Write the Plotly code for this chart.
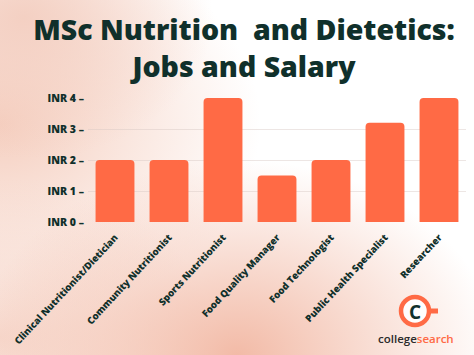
import base64
import plotly.graph_objects as go

categories = [
    "Clinical Nutritionist/Dietician",
    "Community Nutritionist",
    "Sports Nutritionist",
    "Food Quality Manager",
    "Food Technologist",
    "Public Health Specialist",
    "Researcher",
]
salary_lakh = [2, 2, 4, 1.5, 2, 3.2, 4]
tick_values = [0, 1, 2, 3, 4]
tick_labels = ["INR 0 –", "INR 1 –", "INR 2 –", "INR 3 –", "INR 4 –"]

W, H = 474, 355
L, R, T, B = 88, 8, 98, 133
pw, ph = W - L - R, H - T - B

DARK = "#10302b"
ORANGE = "#ff6a45"

svg = f"""<svg xmlns='http://www.w3.org/2000/svg' width='{W}' height='{H}' viewBox='0 0 {W} {H}' preserveAspectRatio='none'>
<defs>
<radialGradient id='g1' cx='0' cy='0.35' r='0.55'>
<stop offset='0' stop-color='#f4c9b8' stop-opacity='0.9'/>
<stop offset='1' stop-color='#f4c9b8' stop-opacity='0'/>
</radialGradient>
<radialGradient id='g2' cx='0.5' cy='1' r='0.55'>
<stop offset='0' stop-color='#f1b39d' stop-opacity='0.9'/>
<stop offset='1' stop-color='#f1b39d' stop-opacity='0'/>
</radialGradient>
<radialGradient id='g3' cx='0.05' cy='0.05' r='0.4'>
<stop offset='0' stop-color='#f3cdbf' stop-opacity='0.9'/>
<stop offset='1' stop-color='#f3cdbf' stop-opacity='0'/>
</radialGradient>
<radialGradient id='g4' cx='0.0' cy='0.95' r='0.45'>
<stop offset='0' stop-color='#f6d4c7' stop-opacity='0.9'/>
<stop offset='1' stop-color='#f6d4c7' stop-opacity='0'/>
</radialGradient>
</defs>
<rect width='{W}' height='{H}' fill='#ffffff'/>
<rect width='{W}' height='{H}' fill='url(#g1)'/>
<rect width='{W}' height='{H}' fill='url(#g3)'/>
<rect width='{W}' height='{H}' fill='url(#g4)'/>
<rect width='{W}' height='{H}' fill='url(#g2)'/>
</svg>"""
svg_uri = "data:image/svg+xml;base64," + base64.b64encode(svg.encode()).decode()


def px_x(x):
    return (x - L) / pw


def px_y(y):
    return (H - B - y) / ph


fig = go.Figure()
fig.add_trace(
    go.Bar(
        x=categories,
        y=salary_lakh,
        marker=dict(color=ORANGE, cornerradius=4, line=dict(width=0)),
        hoverinfo="skip",
    )
)

fig.update_layout(
    width=W,
    height=H,
    margin=dict(l=L, r=R, t=T, b=B, pad=0, autoexpand=False),
    paper_bgcolor="white",
    plot_bgcolor="rgba(0,0,0,0)",
    bargap=0.28,
    showlegend=False,
    title=dict(
        text="MSc Nutrition  and Dietetics:<br>Jobs and Salary",
        x=244 / W,
        xanchor="center",
        y=1 - 40 / H,
        yanchor="middle",
        font=dict(family="Open Sans", size=28.5, color=DARK, weight=800),
        automargin=False,
    ),
    font=dict(family="Open Sans", color=DARK),
    images=[
        dict(
            source=svg_uri,
            xref="paper",
            yref="paper",
            x=px_x(0),
            y=px_y(0),
            sizex=W / pw,
            sizey=H / ph,
            xanchor="left",
            yanchor="top",
            sizing="stretch",
            layer="below",
        )
    ],
)

fig.update_xaxes(
    range=[-0.5, 6.5],
    tickangle=-47,
    tickfont=dict(family="Open Sans", size=9.6, color=DARK, weight=800),
    showgrid=False,
    showline=False,
    ticks="",
    zeroline=False,
    automargin=False,
    ticklabelstandoff=7,
)
fig.update_yaxes(
    range=[0, 4],
    tickvals=tick_values,
    ticktext=tick_labels,
    tickfont=dict(family="Open Sans", size=10.5, color=DARK, weight=800),
    showgrid=True,
    gridcolor="rgba(215,200,195,0.45)",
    gridwidth=1,
    zeroline=False,
    showline=False,
    ticks="",
    ticklabelstandoff=3,
    automargin=False,
)

# logo (decoration)
cx, cy, r = 415, 311, 14
fig.add_shape(
    type="line", xref="paper", yref="paper",
    x0=px_x(cx + r), x1=px_x(cx + r + 9), y0=px_y(cy), y1=px_y(cy),
    line=dict(color=ORANGE, width=5),
)
fig.add_shape(
    type="circle", xref="paper", yref="paper",
    x0=px_x(cx - r), x1=px_x(cx + r), y0=px_y(cy - r), y1=px_y(cy + r),
    line=dict(color=ORANGE, width=4.5), fillcolor="rgba(255,255,255,0.9)",
)
fig.add_annotation(
    xref="paper", yref="paper", x=px_x(cx), y=px_y(cy + 1),
    text="<b>C</b>", showarrow=False, xanchor="center", yanchor="middle",
    font=dict(family="Open Sans", size=19, color=DARK, weight=800),
)
fig.add_annotation(
    xref="paper", yref="paper", x=px_x(416), y=px_y(338),
    text="<span style='color:#2b2b2b'>college</span><span style='color:#ff6a45'>search</span>",
    showarrow=False, xanchor="center", yanchor="middle",
    font=dict(family="Open Sans", size=11.5, weight=600),
)

fig.write_html(
    "out.html",
    config={"displayModeBar": False},
    post_script="document.body.style.margin='0';document.body.style.overflow='hidden';",
)
